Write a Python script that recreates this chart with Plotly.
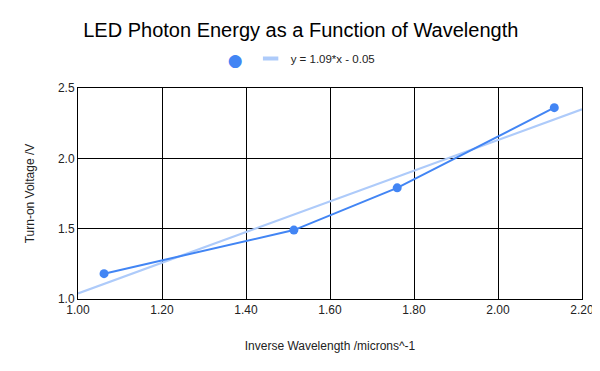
import plotly.graph_objects as go

# Data
inv_wavelength = [1.062, 1.514, 1.760, 2.134]
turn_on_voltage = [1.18, 1.49, 1.79, 2.36]

# Trendline coefficients (as shown in legend)
slope = 1.09
intercept = -0.05
trend_label = "y = 1.09*x - 0.05"
trend_x = [1.0, 2.2]
trend_y = [slope * x + intercept for x in trend_x]

x_ticks = [1.0, 1.2, 1.4, 1.6, 1.8, 2.0, 2.2]
y_ticks = [1.0, 1.5, 2.0, 2.5]

BLUE = "#4285f4"
LIGHT = "#aecbfa"

fig = go.Figure()

# trendline
fig.add_trace(go.Scatter(
    x=trend_x, y=trend_y, mode="lines",
    line=dict(color=LIGHT, width=2.2), showlegend=False, hoverinfo="skip"))

# data series
fig.add_trace(go.Scatter(
    x=inv_wavelength, y=turn_on_voltage, mode="lines+markers",
    line=dict(color=BLUE, width=2),
    marker=dict(color=BLUE, size=9),
    showlegend=False))

# legend entry for trendline
fig.add_trace(go.Scatter(
    x=[None], y=[None], mode="markers",
    marker=dict(color=LIGHT, size=11, symbol="line-ew",
                line=dict(color=LIGHT, width=4)),
    name=trend_label))

fig.update_layout(
    width=600, height=371,
    margin=dict(l=70, r=26, t=80, b=80),
    paper_bgcolor="white", plot_bgcolor="white",
    font=dict(family="Liberation Sans, Arial, sans-serif", size=12, color="#222222"),
    title=dict(text="LED Photon Energy as a Function of Wavelength",
               x=0.488, xanchor="center", y=0.941, yanchor="middle",
               font=dict(size=20, color="#000000")),
    legend=dict(orientation="h", x=0.446, xanchor="center", y=1.13, yanchor="middle",
                font=dict(size=11.5, color="#222222"),
                itemwidth=30, itemsizing="trace",
                title=dict(text="●", side="left",
                           font=dict(family="DejaVu Sans", size=17, color=BLUE))),
    xaxis=dict(range=[1.0, 2.2], tickvals=x_ticks,
               ticktext=[f"{v:.2f}" for v in x_ticks],
               showgrid=True, gridcolor="#000000", gridwidth=1,
               showline=True, linecolor="#000000", linewidth=1, mirror=True,
               zeroline=False, ticks="", automargin=False,
               title=dict(text="Inverse Wavelength /microns^-1", standoff=25,
                          font=dict(size=12, color="#222222"))),
    yaxis=dict(range=[1.0, 2.5], tickvals=y_ticks,
               ticktext=[f"{v:.1f}" for v in y_ticks],
               showgrid=True, gridcolor="#000000", gridwidth=1,
               showline=True, linecolor="#000000", linewidth=1, mirror=True,
               zeroline=False, ticks="", automargin=False,
               title=dict(text="Turn-on Voltage /V", standoff=20,
                          font=dict(size=12, color="#222222"))),
)

fig.write_html("out.html")
